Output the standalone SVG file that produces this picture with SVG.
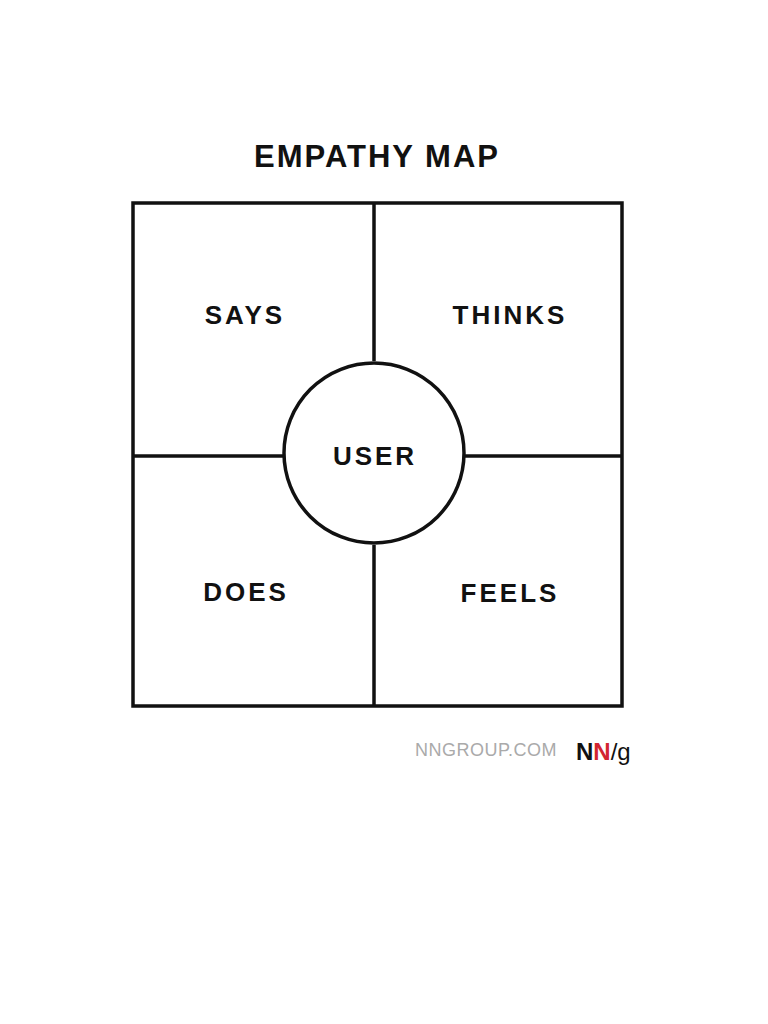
<svg xmlns="http://www.w3.org/2000/svg" width="768" height="1024" viewBox="0 0 768 1024">
<style>
.l{font-family:"Liberation Sans",Arial,sans-serif;font-weight:bold;font-size:26px;letter-spacing:3px;fill:#111;text-anchor:middle}
.s{stroke:#111;stroke-width:3.5;fill:none}
</style>
<rect width="768" height="1024" fill="#fff"/>
<text x="377" y="167" class="l" style="font-size:31px;letter-spacing:2px">EMPATHY MAP</text>
<g id="connectors">
<line class="s" x1="374" y1="203" x2="374" y2="361"/>
<line class="s" x1="374" y1="545" x2="374" y2="706"/>
<line class="s" x1="133" y1="456" x2="284" y2="456"/>
<line class="s" x1="464" y1="456" x2="622" y2="456"/>
</g>
<g id="frame"><rect class="s" x="133" y="203" width="489" height="503"/></g>
<g id="says"><text x="245" y="324" class="l">SAYS</text></g>
<g id="thinks"><text x="510" y="324" class="l">THINKS</text></g>
<g id="does"><text x="246" y="601" class="l">DOES</text></g>
<g id="feels"><text x="510" y="602" class="l">FEELS</text></g>
<g id="user"><circle class="s" cx="374" cy="453" r="90"/><text x="375" y="465" class="l">USER</text></g>
<g id="footer">
<text x="486" y="756" style="font-family:'Liberation Sans',Arial,sans-serif;font-size:18px;fill:#aaa;text-anchor:middle;letter-spacing:0.5px">NNGROUP.COM</text>
<text x="576" y="760" style="font-family:'Liberation Sans',Arial,sans-serif;font-weight:bold;font-size:24px"><tspan fill="#111">N</tspan><tspan fill="#d22630">N</tspan><tspan fill="#111" font-weight="normal">/g</tspan></text>
</g>
</svg>
